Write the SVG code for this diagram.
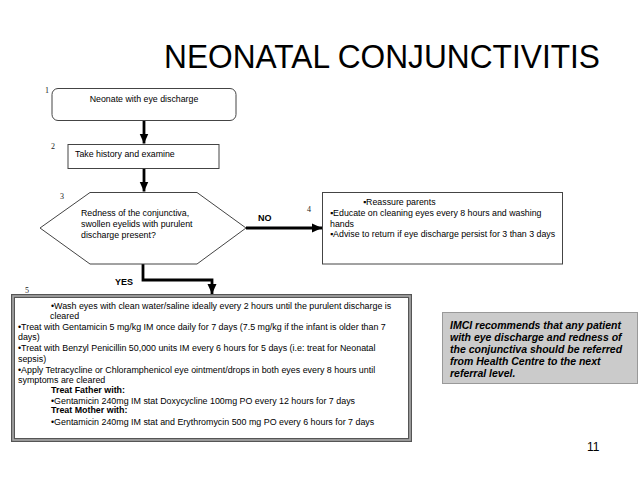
<svg xmlns="http://www.w3.org/2000/svg" width="638" height="478" viewBox="0 0 638 478">
<style>
text{font-family:"Liberation Sans",Arial,sans-serif;fill:#000}
.n{font-family:"Liberation Serif","Times New Roman",serif;font-size:8px;fill:#222}
.t{font-size:8.8px}
.b{font-size:8.9px}
.bold{font-weight:bold}
.box{fill:#fff;stroke:#444;stroke-width:1}
.con{fill:none;stroke:#000;stroke-width:2.8}
</style>
<defs>
<marker id="ah" markerUnits="userSpaceOnUse" markerWidth="10" markerHeight="10" viewBox="0 0 10 10" refX="10" refY="5" orient="auto">
<path d="M0,0.5 L10,5 L0,9.5 Z" fill="#000"/>
</marker>
</defs>
<rect width="638" height="478" fill="#fff"/>
<text x="164" y="68" style="font-size:33px" textLength="436" lengthAdjust="spacingAndGlyphs">NEONATAL CONJUNCTIVITIS</text>

<g id="connectors">
<line class="con" x1="144" y1="121" x2="144" y2="143.5" marker-end="url(#ah)"/>
<line class="con" x1="144" y1="168.5" x2="144" y2="191.5" marker-end="url(#ah)"/>
<line class="con" x1="246" y1="228" x2="322" y2="228" marker-end="url(#ah)"/>
<polyline class="con" points="143,264 143,280 212,280 212,294" marker-end="url(#ah)"/>
<text class="bold" x="258" y="221" style="font-size:9px">NO</text>
<text class="bold" x="115" y="285" style="font-size:9px">YES</text>
</g>

<g id="n1">
<text class="n" x="45" y="93">1</text>
<rect class="box" x="52" y="88.5" width="184" height="32" rx="6"/>
<text class="t" x="144" y="102" text-anchor="middle">Neonate with eye discharge</text>
</g>

<g id="n2">
<text class="n" x="51" y="149">2</text>
<rect class="box" x="68" y="144.5" width="151" height="24"/>
<text class="t" x="75" y="157">Take history and examine</text>
</g>

<g id="n3">
<text class="n" x="60" y="199">3</text>
<polygon class="box" points="90,192.5 197,192.5 246,228 197,264 90,264 40,228"/>
<text class="t" x="81" y="216">Redness of the conjunctiva,</text>
<text class="t" x="81" y="227">swollen eyelids with purulent</text>
<text class="t" x="81" y="238">discharge present?</text>
</g>

<g id="n4">
<text class="n" x="307" y="212">4</text>
<rect class="box" x="322.5" y="192.5" width="240" height="71.5"/>
<text class="t" x="363" y="204.5">▪Reassure parents</text>
<text class="t" x="330" y="215.5">▪Educate on cleaning eyes every 8 hours and washing</text>
<text class="t" x="330" y="226.5">hands</text>
<text class="t" x="330" y="237">▪Advise to return if eye discharge persist for 3 than 3 days</text>
</g>

<g id="n5">
<text class="n" x="25" y="293">5</text>
<rect x="13" y="296" width="397" height="144" fill="#fff" stroke="#555" stroke-width="4"/>
<rect x="13" y="296" width="397" height="144" fill="none" stroke="#aaa" stroke-width="1.6"/>
<text class="b" x="51" y="308.5">•Wash eyes with clean water/saline ideally every 2 hours until the purulent discharge is</text>
<text class="b" x="50" y="319">cleared</text>
<text class="b" x="18" y="329.5">•Treat with Gentamicin 5 mg/kg IM once daily for 7 days (7.5 mg/kg if the infant is older than 7</text>
<text class="b" x="18" y="340">days)</text>
<text class="b" x="18" y="351">•Treat with Benzyl Penicillin 50,000 units IM every 6 hours for 5 days (i.e: treat for Neonatal</text>
<text class="b" x="18" y="361.5">sepsis)</text>
<text class="b" x="18" y="372.5">•Apply Tetracycline or Chloramphenicol eye ointment/drops in both eyes every 8 hours until</text>
<text class="b" x="18" y="383">symptoms are cleared</text>
<text class="b bold" x="51" y="393">Treat Father with:</text>
<text class="b" x="51" y="403.5">•Gentamicin 240mg IM stat Doxycycline 100mg PO every 12 hours for 7 days</text>
<text class="b bold" x="51" y="413">Treat Mother with:</text>
<text class="b" x="51" y="424.5">•Gentamicin 240mg IM stat and  Erythromycin 500 mg PO every 6 hours for 7 days</text>
</g>

<g id="note">
<rect x="442.5" y="312.5" width="195" height="71" fill="#cbcbcb" stroke="#999" stroke-width="1"/>
<g style="font-size:10.5px;font-weight:bold;font-style:italic">
<text x="450" y="329">IMCI recommends that any patient</text>
<text x="450" y="341">with eye discharge and redness of</text>
<text x="450" y="353">the conjunctiva should be referred</text>
<text x="450" y="365">from Health Centre to the next</text>
<text x="450" y="377">referral level.</text>
</g>
</g>

<text x="587" y="451" style="font-size:12px">11</text>
</svg>
